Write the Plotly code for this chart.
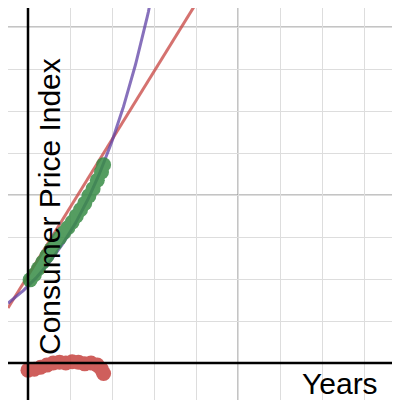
import numpy as np
import plotly.graph_objects as go

# data (units: one minor grid step)
years = [0.05,0.15,0.25,0.35,0.45,0.55,0.65,0.75,0.85,0.95,1.05,1.15,1.25,1.35,1.45,1.55,1.65,1.75,1.8]
cpi   = [1.98,2.1,2.25,2.4,2.55,2.7,2.85,2.98,3.1,3.22,3.35,3.5,3.65,3.8,3.98,4.15,4.35,4.55,4.72]
resid_x = [0.0,0.15,0.3,0.45,0.6,0.75,0.9,1.05,1.2,1.35,1.5,1.65,1.75,1.8]
resid_y = [-0.17,-0.15,-0.1,-0.05,0.0,0.02,0.0,0.03,0.02,-0.02,0.0,-0.05,-0.15,-0.25]
lin_slope, lin_icept = 1.62, 2.08
exp_a, exp_b = 1.83, 0.53

xr = [-20/42, 380/42]
yr = [-45/42, 355/42]
xs = np.linspace(xr[0], xr[1], 400)

fig = go.Figure()
fig.add_trace(go.Scatter(x=xs, y=lin_slope*xs+lin_icept, mode="lines",
    line=dict(color="#c74440", width=3), opacity=0.75))
fig.add_trace(go.Scatter(x=xs, y=exp_a*np.exp(exp_b*xs), mode="lines",
    line=dict(color="#6042a6", width=3), opacity=0.75))
fig.add_trace(go.Scatter(x=years, y=cpi, mode="markers",
    marker=dict(color="#388c46", size=15), opacity=0.85))
fig.add_trace(go.Scatter(x=resid_x, y=resid_y, mode="markers",
    marker=dict(color="#c74440", size=15), opacity=0.85))

shapes = []
for v in [5]:
    shapes.append(dict(type="line", x0=v, x1=v, y0=yr[0], y1=yr[1], line=dict(color="#888", width=1), layer="below"))
for v in [4, 8]:
    shapes.append(dict(type="line", y0=v, y1=v, x0=xr[0], x1=xr[1], line=dict(color="#888", width=1), layer="below"))
shapes.append(dict(type="line", x0=0, x1=0, y0=yr[0], y1=yr[1], line=dict(color="black", width=2.5)))
shapes.append(dict(type="line", y0=0, y1=0, x0=xr[0], x1=xr[1], line=dict(color="black", width=2.5)))

fig.update_layout(width=400, height=400, margin=dict(l=0, r=0, t=0, b=0, pad=0, autoexpand=False),
    plot_bgcolor="white", paper_bgcolor="white", showlegend=False, shapes=shapes,
    xaxis=dict(range=xr, dtick=1, tick0=0, showgrid=True, gridcolor="#ddd", zeroline=False, showticklabels=False, ticks="", automargin=False),
    yaxis=dict(range=yr, dtick=1, tick0=0, showgrid=True, gridcolor="#ddd", zeroline=False, showticklabels=False, ticks="", automargin=False),
    annotations=[
        dict(text="Years", x=1, y=0, xref="paper", yref="paper", xanchor="right", yanchor="bottom",
             xshift=-28, yshift=6, showarrow=False, font=dict(family="Liberation Sans, Arial", size=30, color="black")),
        dict(text="Consumer Price Index", x=0, y=0, xref="x", yref="y", xanchor="left", yanchor="bottom",
             xshift=3, yshift=6, textangle=-90, showarrow=False,
             font=dict(family="Liberation Sans, Arial", size=30, color="black")),
    ])
fig.write_html("out.html")
